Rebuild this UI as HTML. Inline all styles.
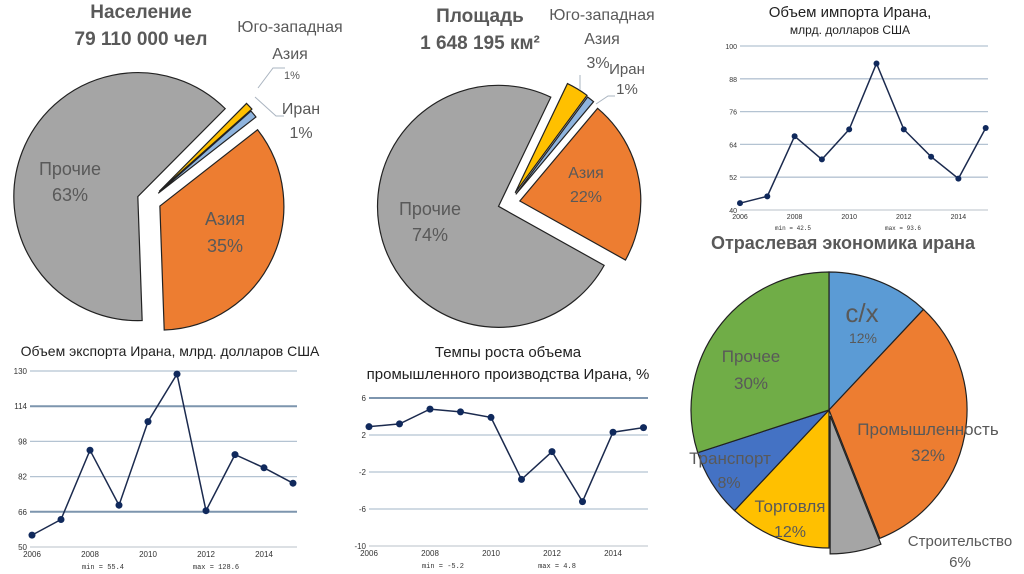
<!DOCTYPE html>
<html><head><meta charset="utf-8">
<style>
html,body{margin:0;padding:0;background:#fff;}
svg{display:block;font-family:"Liberation Sans","DejaVu Sans",sans-serif;}
</style></head>
<body>
<svg id="root" width="1024" height="574" viewBox="0 0 1024 574">
<g id="pies"></g>
<g fill="#595959" text-anchor="middle">
  <text x="141" y="18" font-size="19" font-weight="bold">Население</text>
  <text x="141" y="45" font-size="19" font-weight="bold">79 110 000 чел</text>
  <text x="290" y="32" font-size="16">Юго-западная</text>
  <text x="290" y="59" font-size="16">Азия</text>
  <text x="292" y="79" font-size="11">1%</text>
  <text x="301" y="114" font-size="16">Иран</text>
  <text x="301" y="138" font-size="16">1%</text>
  <text x="70" y="175" font-size="18">Прочие</text>
  <text x="70" y="201" font-size="18">63%</text>
  <text x="225" y="225" font-size="18">Азия</text>
  <text x="225" y="252" font-size="18">35%</text>

  <text x="480" y="22" font-size="19" font-weight="bold">Площадь</text>
  <text x="480" y="49" font-size="19" font-weight="bold">1 648 195 км²</text>
  <text x="602" y="20" font-size="16">Юго-западная</text>
  <text x="602" y="44" font-size="16">Азия</text>
  <text x="598" y="68" font-size="16">3%</text>
  <text x="627" y="74" font-size="15">Иран</text>
  <text x="627" y="94" font-size="15">1%</text>
  <text x="586" y="178" font-size="16">Азия</text>
  <text x="586" y="202" font-size="16">22%</text>
  <text x="430" y="215" font-size="18">Прочие</text>
  <text x="430" y="241" font-size="18">74%</text>

  <text x="843" y="249" font-size="18" font-weight="bold">Отраслевая экономика ирана</text>
</g>
<g fill="#222" text-anchor="middle">
  <text x="850" y="17" font-size="15">Объем импорта Ирана,</text>
  <text x="850" y="34" font-size="12">млрд. долларов США</text>
  <text x="170" y="356" font-size="14">Объем экспорта Ирана, млрд. долларов США</text>
  <text x="508" y="357" font-size="15">Темпы роста объема</text>
  <text x="508" y="379" font-size="15">промышленного производства Ирана, %</text>
</g>
<g stroke="#aab4c0" stroke-width="1" fill="none">
  <polyline points="258,88 273,68 285,68"/>
  <polyline points="255,97 276,116 284,116"/>
  <polyline points="580,90 580,75"/>
  <polyline points="596,104 608,96 615,96"/>
</g>
<g id="charts"></g>
<g id="econ-labels" fill="#595959" text-anchor="middle">
  <text x="862" y="322" font-size="26">с/х</text>
  <text x="863" y="343" font-size="14">12%</text>
  <text x="751" y="362" font-size="17">Прочее</text>
  <text x="751" y="389" font-size="17">30%</text>
  <text x="928" y="435" font-size="17">Промышленность</text>
  <text x="928" y="461" font-size="17">32%</text>
  <text x="730" y="464" font-size="17">Транспорт</text>
  <text x="729" y="488" font-size="16">8%</text>
  <text x="790" y="512" font-size="17">Торговля</text>
  <text x="790" y="537" font-size="16">12%</text>
  <text x="960" y="546" font-size="15">Строительство</text>
  <text x="960" y="567" font-size="15">6%</text>
</g>
</svg>
<script>
// ---- pie data ----
const popNames = ['asia','other','sw-asia','iran'];
const popValues = [35, 63, 1, 1];
const popColors = ['#ed7d31','#a5a5a5','#ffc000','#8fb4de'];
const areaNames = ['asia','other','sw-asia','iran'];
const areaValues = [22, 74, 3, 1];
const areaColors = ['#ed7d31','#a5a5a5','#ffc000','#8fb4de'];
const econNames = ['agri','industry','construction','trade','transport','other'];
const econValues = [12, 32, 6, 12, 8, 30];
const econColors = ['#5b9bd5','#ed7d31','#a5a5a5','#ffc000','#4472c4','#70ad47'];

// ---- line chart data ----
const years = [2006,2007,2008,2009,2010,2011,2012,2013,2014,2015];
const xTickLabels = [2006,2008,2010,2012,2014];
const importValues = [42.5,45,67,58.5,69.5,93.6,69.5,59.5,51.5,70];
const importTicks = [40,52,64,76,88,100];
const exportValues = [55.4,62.5,94,69,107,128.6,66.5,92,86,79];
const exportTicks = [50,66,82,98,114,130];
const growthValues = [2.9,3.2,4.8,4.5,3.9,-2.8,0.2,-5.2,2.3,2.8];
const growthTicks = [-10,-6,-2,2,6];

const NS='http://www.w3.org/2000/svg';
function mk(tag, parent){const e=document.createElementNS(NS,tag);parent.appendChild(e);return e;}

function drawPie(prefix, values, colors, names, cx, cy, r, startDeg, explode){
  const g=document.getElementById('pies');
  const total=values.reduce((a,b)=>a+b,0);
  let a=startDeg;
  values.forEach((v,i)=>{
    const sweep=v/total*360, a0=a, a1=a+sweep; a=a1;
    const mid=(a0+a1)/2*Math.PI/180;
    const ex=explode[i]||0;
    const ox=cx+ex*Math.sin(mid), oy=cy-ex*Math.cos(mid);
    const p0=[ox+r*Math.sin(a0*Math.PI/180), oy-r*Math.cos(a0*Math.PI/180)];
    const p1=[ox+r*Math.sin(a1*Math.PI/180), oy-r*Math.cos(a1*Math.PI/180)];
    const p=mk('path',g);
    p.setAttribute('d',`M${ox},${oy} L${p0[0]},${p0[1]} A${r},${r} 0 ${sweep>180?1:0} 1 ${p1[0]},${p1[1]} Z`);
    p.setAttribute('fill',colors[i]);p.setAttribute('stroke','#222');p.setAttribute('stroke-width','1.2');
    
    
  });
}
drawPie('population', popValues, popColors, popNames, 149, 201, 124, 52, [12,12,14,12]);
drawPie('area', areaValues, areaColors, areaNames, 509, 203, 121, 40, [11,11,12,11]);
drawPie('economy', econValues, econColors, econNames, 829, 410, 138, 0, [0,0,6,0,0,0]);

function drawLine(prefix, values, ticks, box, darkTicks, minLbl, maxLbl){
  const g=mk('g',document.getElementById('charts'));
  
  
  const lo=ticks[0], hi=ticks[ticks.length-1];
  const y=v=>box.yb-(v-lo)/(hi-lo)*(box.yb-box.yt);
  const x=yr=>box.x0+(yr-years[0])*box.step;
  ticks.forEach(t=>{
    const l=mk('line',g);
    l.setAttribute('x1',box.gl);l.setAttribute('x2',box.gr);l.setAttribute('y1',y(t));l.setAttribute('y2',y(t));
    const dark=darkTicks.includes(t);
    l.setAttribute('stroke', t===lo?'#c8cdd3':(dark?'#7d95ae':'#b4c3d2'));l.setAttribute('stroke-width',dark?2:1.3);
    
    
    const tx=mk('text',g);tx.textContent=t;
    tx.setAttribute('x',box.gl-3);tx.setAttribute('y',y(t)+3);tx.setAttribute('font-size',box.fs);tx.setAttribute('text-anchor','end');tx.setAttribute('fill','#333');
    
    
  });
  xTickLabels.forEach(yr=>{
    const tx=mk('text',g);tx.textContent=yr;
    tx.setAttribute('x',x(yr));tx.setAttribute('y',box.yb+box.fs+2);tx.setAttribute('font-size',box.fs);tx.setAttribute('text-anchor','middle');tx.setAttribute('fill','#333');
    
    
  });
  [[minLbl,box.minX],[maxLbl,box.maxX]].forEach(([s,xx])=>{
    const tx=mk('text',g);tx.textContent=s;
    tx.setAttribute('x',xx);tx.setAttribute('y',box.yb+2*box.fs+6);tx.setAttribute('font-size',box.fs-1);
    tx.setAttribute('font-family','Liberation Mono, monospace');tx.setAttribute('fill','#333');tx.setAttribute('text-anchor','middle');
    
    
  });
  const pl=mk('polyline',g);
  pl.setAttribute('points',values.map((v,i)=>x(years[i])+','+y(v)).join(' '));
  pl.setAttribute('fill','none');pl.setAttribute('stroke','#1b2a4e');pl.setAttribute('stroke-width','1.5');
  
  
  values.forEach((v,i)=>{
    const c=mk('circle',g);
    c.setAttribute('cx',x(years[i]));c.setAttribute('cy',y(v));c.setAttribute('r',box.r);c.setAttribute('fill','#10295c');
    
    
  });
}
drawLine('import', importValues, importTicks, {x0:740,step:27.3,gl:740,gr:988,yt:46,yb:210,fs:7,r:3,minX:793,maxX:903}, [], 'min = 42.5','max = 93.6');
drawLine('export', exportValues, exportTicks, {x0:32,step:29,gl:30,gr:297,yt:371,yb:547,fs:8,r:3.5,minX:103,maxX:216}, [114,66], 'min = 55.4','max = 128.6');
drawLine('growth', growthValues, growthTicks, {x0:369,step:30.5,gl:369,gr:648,yt:398,yb:546,fs:8,r:3.5,minX:443,maxX:557}, [6], 'min = -5.2','max = 4.8');
</script>
</body></html>
